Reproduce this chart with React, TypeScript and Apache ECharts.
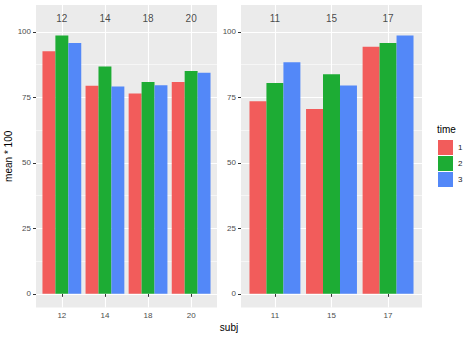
import React, { useEffect, useRef } from "react";
import * as echarts from "echarts";

const leftSubj = ["12", "14", "18", "20"];
const leftTime1 = [92.6, 79.4, 76.5, 80.9];
const leftTime2 = [98.6, 86.8, 80.9, 85.1];
const leftTime3 = [95.7, 79.1, 79.6, 84.4];

const rightSubj = ["11", "15", "17"];
const rightTime1 = [73.5, 70.6, 94.3];
const rightTime2 = [80.5, 83.8, 95.7];
const rightTime3 = [88.4, 79.5, 98.6];

const timeLevels = ["1", "2", "3"];
const yTicks = [0, 25, 50, 75, 100];
const yMinor = [12.5, 37.5, 62.5, 87.5];
const labelY = 105;

const COLORS = ["#F25C5B", "#1DAC34", "#5388F8"];
const FONT = "Liberation Sans, Arial, sans-serif";

export default function App() {
  const ref = useRef<HTMLDivElement>(null);

  useEffect(() => {
    if (!ref.current) return;
    const chart = echarts.init(ref.current, undefined, { renderer: "svg" });

    const yMin = -0.05 * labelY;
    const yMax = 1.05 * labelY;

    const panels = [
      { subj: leftSubj, vals: [leftTime1, leftTime2, leftTime3], left: 36 },
      { subj: rightSubj, vals: [rightTime1, rightTime2, rightTime3], left: 241 },
    ];

    const grids: any[] = [];
    const xAxes: any[] = [];
    const yAxes: any[] = [];
    const series: any[] = [];

    panels.forEach((p, gi) => {
      const n = p.subj.length;
      const idx = p.subj.map((_, i) => i + 1);
      grids.push({
        left: p.left,
        top: 5,
        width: 181,
        height: 302.6,
        show: true,
        backgroundColor: "#EBEBEB",
        borderWidth: 0,
        containLabel: false,
      });
      xAxes.push({
        type: "value",
        gridIndex: gi,
        min: 0.4,
        max: n + 0.6,
        axisLine: { show: false },
        axisTick: {
          show: true,
          customValues: idx,
          length: 3,
          lineStyle: { color: "#333333", width: 1 },
        },
        axisLabel: {
          customValues: idx,
          formatter: (v: number) => p.subj[Math.round(v) - 1] ?? "",
          fontSize: 8,
          color: "#4D4D4D",
          margin: 4,
          fontFamily: FONT,
        },
        splitLine: { show: true, lineStyle: { color: "#FFFFFF", width: 1.1 } },
      });
      yAxes.push({
        type: "value",
        gridIndex: gi,
        min: yMin,
        max: yMax,
        position: "left",
        axisLine: { show: false },
        axisTick: {
          show: true,
          customValues: yTicks,
          length: 3,
          lineStyle: { color: "#333333", width: 1 },
        },
        axisLabel: {
          customValues: yTicks,
          fontSize: 8,
          color: "#4D4D4D",
          margin: 5,
          fontFamily: FONT,
        },
        splitLine: { show: true, lineStyle: { color: "#FFFFFF", width: 1.1 } },
        name: gi === 0 ? "mean * 100" : "",
        nameLocation: "middle",
        nameRotate: 90,
        nameGap: 23,
        nameTextStyle: { fontSize: 10, color: "#000000", fontFamily: FONT },
      });
    });

    // minor grid axes
    panels.forEach((p, gi) => {
      yAxes.push({
        type: "value",
        gridIndex: gi,
        min: yMin,
        max: yMax,
        position: "left",
        axisLine: { show: false },
        axisTick: { show: false, customValues: yMinor },
        axisLabel: { show: false, customValues: yMinor },
        splitLine: { show: true, lineStyle: { color: "#FFFFFF", width: 0.55 } },
      });
    });

    panels.forEach((p, gi) => {
      p.vals.forEach((arr, ti) => {
        series.push({
          type: "bar",
          name: timeLevels[ti],
          xAxisIndex: gi,
          yAxisIndex: gi,
          barWidth: "30%",
          barGap: "0%",
          itemStyle: { color: COLORS[ti] },
          data: arr.map((v, i) => [i + 1, v]),
          z: 3,
        });
      });
      series.push({
        type: "scatter",
        name: "subjlabel" + gi,
        xAxisIndex: gi,
        yAxisIndex: gi,
        symbolSize: 1,
        itemStyle: { color: "rgba(0,0,0,0)" },
        label: {
          show: true,
          position: "inside",
          formatter: (d: any) => d.value[2],
          fontSize: 10,
          color: "#1A1A1A",
          fontFamily: FONT,
        },
        data: p.subj.map((s, i) => [i + 1, labelY, s]),
        z: 4,
      });
    });

    chart.setOption({
      animation: false,
      textStyle: { fontFamily: FONT },
      grid: grids,
      xAxis: xAxes,
      yAxis: yAxes,
      series,
      title: {
        text: "time",
        left: 437,
        top: 124,
        padding: 0,
        textStyle: { fontSize: 10, fontWeight: "normal", color: "#000000", fontFamily: FONT },
      },
      legend: {
        data: timeLevels,
        orient: "vertical",
        left: 438,
        top: 140,
        padding: 0,
        itemWidth: 15,
        itemHeight: 15,
        itemGap: 1,
        icon: "rect",
        selectedMode: false,
        textStyle: { fontSize: 8, color: "#1A1A1A", fontFamily: FONT },
      },
      graphic: [
        {
          type: "text",
          x: 229,
          y: 327,
          style: {
            text: "subj",
            fontSize: 10,
            fill: "#000000",
            textAlign: "center",
            textVerticalAlign: "middle",
            fontFamily: FONT,
          },
        },
      ],
    });

    return () => chart.dispose();
  }, []);

  return (
    <div
      ref={ref}
      style={{ position: "fixed", left: 0, top: 0, width: 474, height: 338, background: "#FFFFFF" }}
    />
  );
}
